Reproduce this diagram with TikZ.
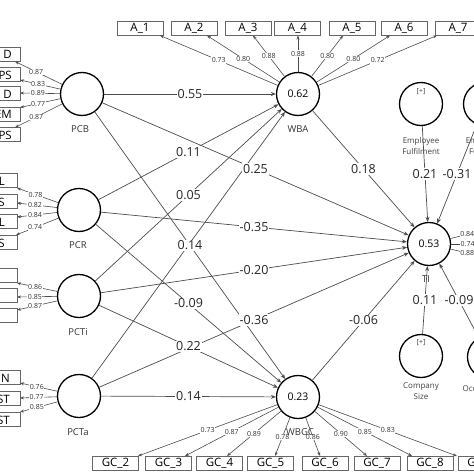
\documentclass[tikz,border=0pt]{standalone}
\usepackage{fontspec}
\setmainfont{Open Sans}
\usetikzlibrary{arrows.meta}
\begin{document}
\begin{tikzpicture}[x=1pt,y=-1pt,
  lv/.style={circle, draw=black, line width=1.3pt, fill=white, minimum size=43pt, inner sep=0pt, font=\fontsize{10.5}{12}\selectfont},
  ind/.style={draw=black!60, line width=0.7pt, fill=white, minimum width=46pt, minimum height=14pt, inner sep=0pt, font=\fontsize{11.5}{12}\selectfont},
  frag/.style={anchor=east, inner sep=0pt, font=\fontsize{11.5}{12}\selectfont},
  strpath/.style={draw=black!70, line width=0.7pt, -{Stealth[length=5pt,width=4pt]}},
  ldpath/.style={draw=black!70, line width=0.6pt, -{Stealth[length=4pt,width=3pt]}},
  pc/.style={font=\fontsize{12.5}{13}\selectfont, fill=white, inner sep=1pt, text=black!85},
  ld/.style={font=\fontsize{7}{8}\selectfont, fill=white, inner sep=0.6pt, text=black!80},
  cname/.style={font=\fontsize{9.5}{11}\selectfont, text=black!80, inner sep=0pt},
  sname/.style={font=\fontsize{8}{10.5}\selectfont, text=black!75, align=center, inner sep=0pt},
  plus/.style={font=\fontsize{7}{8}\selectfont, text=black!75, inner sep=0pt}
]
\useasboundingbox (0,0) rectangle (474,474);
\clip (0,0) rectangle (474,474);

% latent variables
\node[lv] (PCB) at (82,94) {};
\node[lv] (WBA) at (298,94) {0.62};
\node[lv] (PCR) at (79,210) {};
\node[lv] (PCTi) at (79,296) {};
\node[lv] (PCTa) at (79,396) {};
\node[lv] (WBGC) at (298,397) {0.23};
\node[lv] (TI) at (429,244) {0.53};
\node[lv] (EF) at (421,104) {};
\node[lv] (X2) at (485,104) {};
\node[lv] (CS) at (421,356) {};
\node[lv] (OC) at (489,357) {};

\node[plus] (EFp) at (421,92) {[+]};
\node[plus] (CSp) at (421,343) {[+]};

% indicator boxes top
\foreach \i/\x in {1/140,2/194,3/248,4/297.5,5/352,6/404,7/458}
  \node[ind] (a\i) at (\x,28) {A\_\i};
\foreach \i/\x in {1/160,2/207,3/253,4/298,5/343,6/390,7/437}
  \coordinate (ta\i) at (\x,35.5);

% indicator boxes bottom
\foreach \i/\x in {2/115.5,3/168.5,4/219.5,5/270.5,6/325,7/377,8/430,9/481}
  \node[ind] (g\i) at (\x,463) {GC\_\i};
\foreach \i/\x in {2/138,3/185,4/227,5/275,6/320,7/367,8/412,9/457}
  \coordinate (tg\i) at (\x,456);

% left boxes
\foreach \i/\y in {1/54,2/74.5,3/93.5,4/114,5/134.5}
  \node[ind] (b\i) at (-3,\y) {};
\foreach \i/\y/\t in {1/54/D,2/74.5/PS,3/93.5/D,4/114/EM,5/134.5/PS}
  \node[frag] (bt\i) at (12,\y+0.5) {\t};
\foreach \i/\y in {1/180.5,2/201.5,3/221.5,4/242.5}
  \node[ind] (r\i) at (-6,\y) {};
\foreach \i/\y/\t in {1/180.5/L,2/201.5/S,3/221.5/L,4/242.5/S}
  \node[frag] (rt\i) at (5,\y+0.5) {\t};
\foreach \i/\y in {1/275.5,2/295.5,3/315.5}
  \node[ind] (i\i) at (-6,\y) {};
\foreach \i/\y in {1/377.5,2/398.5,3/419.5}
  \node[ind] (t\i) at (-3,\y) {};
\foreach \i/\y/\t in {1/377.5/IN,2/398.5/ST,3/419.5/ST}
  \node[frag] (tt\i) at (10,\y+0.5) {\t};

\coordinate (tb1) at (15,61.5);
\coordinate (tb2) at (20,80);
\coordinate (tb3) at (20,93);
\coordinate (tb4) at (20,107.5);
\coordinate (tb5) at (15,127.5);
\coordinate (tr1) at (17,188);
\coordinate (tr2) at (17,203);
\coordinate (tr3) at (17,217);
\coordinate (tr4) at (16,235);
\coordinate (ti1) at (17,283);
\coordinate (ti2) at (17,297);
\coordinate (ti3) at (17,310);
\coordinate (tt1) at (20,383);
\coordinate (tt2) at (20,398);
\coordinate (tt3) at (20,412);
\coordinate (tx1) at (484,230);
\coordinate (tx2) at (484,244);
\coordinate (tx3) at (484,257);

% structural paths
\foreach \a/\b in {PCB/WBA,PCB/TI,PCB/WBGC,PCR/WBA,PCR/TI,PCR/WBGC,PCTi/WBA,PCTi/TI,PCTi/WBGC,PCTa/WBA,PCTa/TI,PCTa/WBGC,WBA/TI,WBGC/TI,EF/TI,X2/TI,CS/TI,OC/TI}
  \draw[strpath] (\a) -- (\b);

% loading paths
\foreach \i in {1,...,7} \draw[ldpath] (WBA) -- (ta\i);
\foreach \i in {2,...,9} \draw[ldpath] (WBGC) -- (tg\i);
\foreach \i in {1,...,5} \draw[ldpath] (PCB) -- (tb\i);
\foreach \i in {1,...,4} \draw[ldpath] (PCR) -- (tr\i);
\foreach \i in {1,...,3} \draw[ldpath] (PCTi) -- (ti\i);
\foreach \i in {1,...,3} \draw[ldpath] (PCTa) -- (tt\i);
\foreach \i in {1,...,3} \draw[ldpath] (TI) -- (tx\i);

% structural labels
\foreach \a/\b/\v in {PCB/WBA/0.55,PCB/TI/0.25,PCB/WBGC/0.14,PCR/WBA/0.11,PCR/TI/-0.35,PCR/WBGC/-0.09,PCTi/WBA/0.05,PCTi/TI/-0.20,PCTi/WBGC/0.22,PCTa/TI/-0.36,PCTa/WBGC/0.14,WBA/TI/0.18,WBGC/TI/-0.06,EF/TI/0.21,X2/TI/-0.31,CS/TI/0.11,OC/TI/-0.09}
  \path (\a) -- node[pc] {\v} (\b);

% loading labels
\foreach \i/\v in {1/0.73,2/0.80,3/0.88,4/0.88,5/0.80,6/0.80,7/0.72}
  \path (WBA) -- node[ld] {\v} (ta\i);
\foreach \i/\v in {2/0.73,3/0.87,4/0.89,5/0.78,6/0.86,7/0.90,8/0.85,9/0.83}
  \path (WBGC) -- node[ld] {\v} (tg\i);
\foreach \i/\v in {1/0.87,2/0.83,3/0.89,4/0.77,5/0.87}
  \path (PCB) -- node[ld, pos=0.55] {\v} (tb\i);
\foreach \i/\v in {1/0.78,2/0.82,3/0.84,4/0.74}
  \path (PCR) -- node[ld, pos=0.55] {\v} (tr\i);
\foreach \i/\v in {1/0.86,2/0.85,3/0.87}
  \path (PCTi) -- node[ld, pos=0.55] {\v} (ti\i);
\foreach \i/\v in {1/0.76,2/0.77,3/0.85}
  \path (PCTa) -- node[ld, pos=0.55] {\v} (tt\i);
\foreach \i/\v in {1/0.84,2/0.74,3/0.88}
  \path (TI) -- node[ld] {\v} (tx\i);

% construct names
\node[cname] (nPCB) at (80,129) {PCB};
\node[cname] (nPCR) at (78,245) {PCR};
\node[cname] (nPCTi) at (78,332) {PCTi};
\node[cname] (nPCTa) at (78,432) {PCTa};
\node[cname] (nWBA) at (298,129) {WBA};
\node[cname] (nWBGC) at (300,432) {WBGC};
\node[cname] (nTI) at (426,279) {TI};
\node[sname] (nEF) at (421,146) {Employee\\Fulfilment};
\node[sname] (nX2) at (484,146) {Employee\\Fulltime};
\node[sname] (nCS) at (421,391) {Company\\Size};
\node[sname] (nOC) at (484,390) {Occupation};
\end{tikzpicture}
\end{document}
